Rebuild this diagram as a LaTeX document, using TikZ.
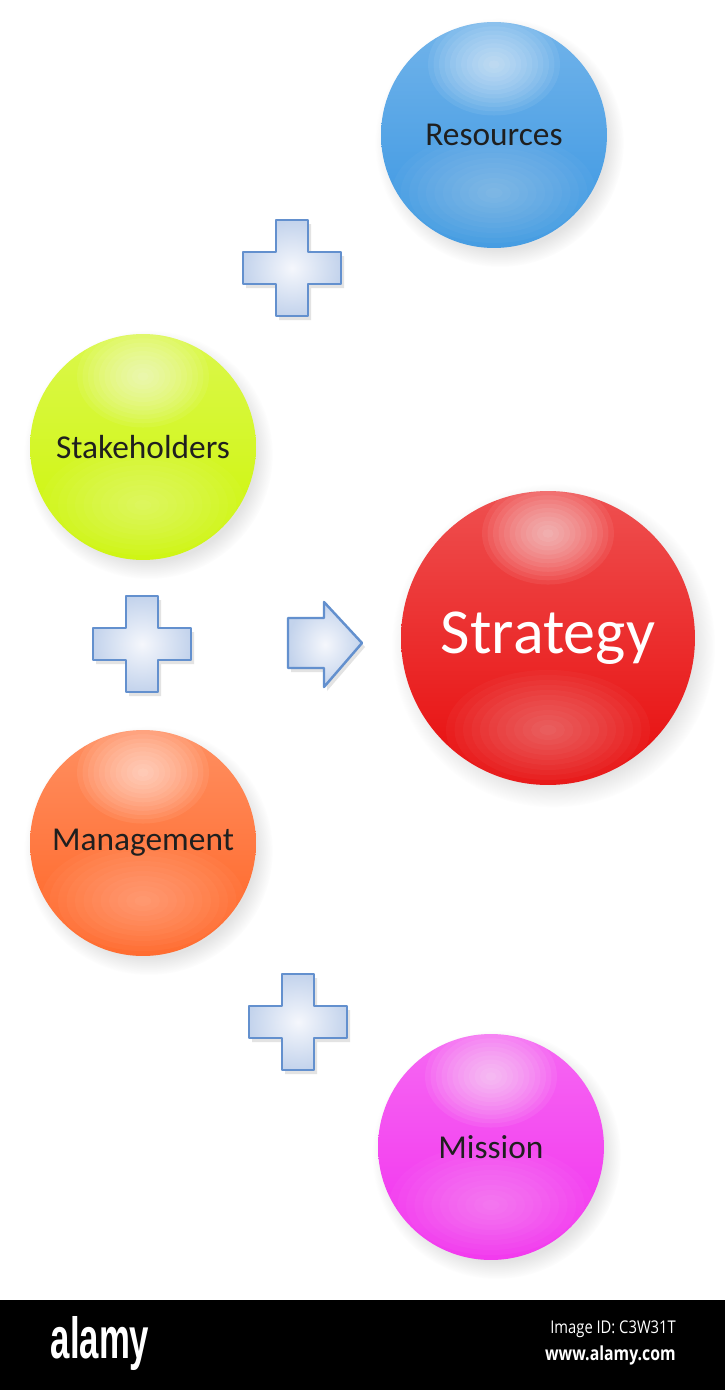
\documentclass[tikz,border=0pt]{standalone}
\usepackage{fontspec}
\setmainfont{Carlito}
\newfontfamily\barfont{Open Sans}
\newfontfamily\logofont{Liberation Sans}
\usetikzlibrary{
    calc,
    shadows
}
\definecolor{resblue}{HTML}{3A96E2}
\definecolor{stakegreen}{HTML}{CDF506}
\definecolor{stratred}{HTML}{E80C0C}
\definecolor{mgmtorange}{HTML}{FF6424}
\definecolor{misspink}{HTML}{F22EEE}
\definecolor{plusedge}{HTML}{6390CE}
\definecolor{plusin}{HTML}{F5F7FC}
\definecolor{plusout}{HTML}{C3D3EC}
\tikzset{
    ball/.style={circle, inner sep=0pt, minimum size=4.52cm,
        top color=#1!72!white, bottom color=#1,
        font=\fontsize{19}{21}\selectfont, text=black!88,
        circular drop shadow={shadow xshift=0.1cm, shadow yshift=-0.14cm, opacity=0.22},
        path picture={
            % soft highlight on top, glow below
            \foreach \k in {1,...,12}
                \fill[white, opacity=0.07]
                    ($(path picture bounding box.north)+(0,-0.85cm)$) ellipse ({0.11cm*\k} and {0.085cm*\k});
            \foreach \k in {1,...,12}
                \fill[white, opacity=0.03]
                    ($(path picture bounding box.south)+(0,1.1cm)$) ellipse ({0.17cm*\k} and {0.1cm*\k});
        }},
    symbol/.style={inner color=plusin, outer color=plusout, draw=plusedge, line width=1.4pt,
        line join=round, drop shadow={shadow xshift=0.06cm, shadow yshift=-0.08cm, opacity=0.22}},
    plussign/.pic={
        \path[symbol] (-49,-16) -- (-16,-16) -- (-16,-48) -- (16,-48) -- (16,-16) -- (49,-16)
            -- (49,16) -- (16,16) -- (16,48) -- (-16,48) -- (-16,16) -- (-49,16) -- cycle;
    }
}
\begin{document}
\begin{tikzpicture}[x=0.02cm, y=-0.02cm]
    \useasboundingbox (0,0) rectangle (725,1390);
    \fill[white] (0,0) rectangle (725,1300);

    % the five balls
    \node[ball=resblue]    (res)   at (494,135)  {Resources};
    \node[ball=stakegreen] (stake) at (143,447)  {Stakeholders};
    \node[ball=mgmtorange] (mgmt)  at (143,843)  {Management};
    \node[ball=misspink]   (miss)  at (491,1147) {Mission};
    \node[ball=stratred, minimum size=5.88cm, text=white,
          font=\fontsize{36.5}{40}\selectfont] (strat) at (548,638) {Strategy};

    % plus signs and arrow
    \pic at (292,268)  {plussign};
    \pic at (142,644)  {plussign};
    \pic at (298,1022) {plussign};
    \path[symbol] (288,618) -- (324,618) -- (324,602) -- (362,643)
        -- (324,687) -- (324,668) -- (288,668) -- cycle;

    % bottom bar
    \fill[black] (0,1300) rectangle (725,1390);
    \node[text=white, xscale=0.6, font=\logofont\bfseries\fontsize{33}{33}\selectfont]
        (logo) at (100,1343) {alamy};
    \node[text=white, anchor=east, inner sep=0pt, xscale=0.84, font=\barfont\fontsize{10}{12}\selectfont]
        (imgid) at (676,1329) {Image ID: C3W31T};
    \node[text=white, anchor=east, inner sep=0pt, xscale=0.82, font=\barfont\bfseries\fontsize{11}{13}\selectfont]
        (web) at (676,1355) {www.alamy.com};
\end{tikzpicture}
\end{document}
